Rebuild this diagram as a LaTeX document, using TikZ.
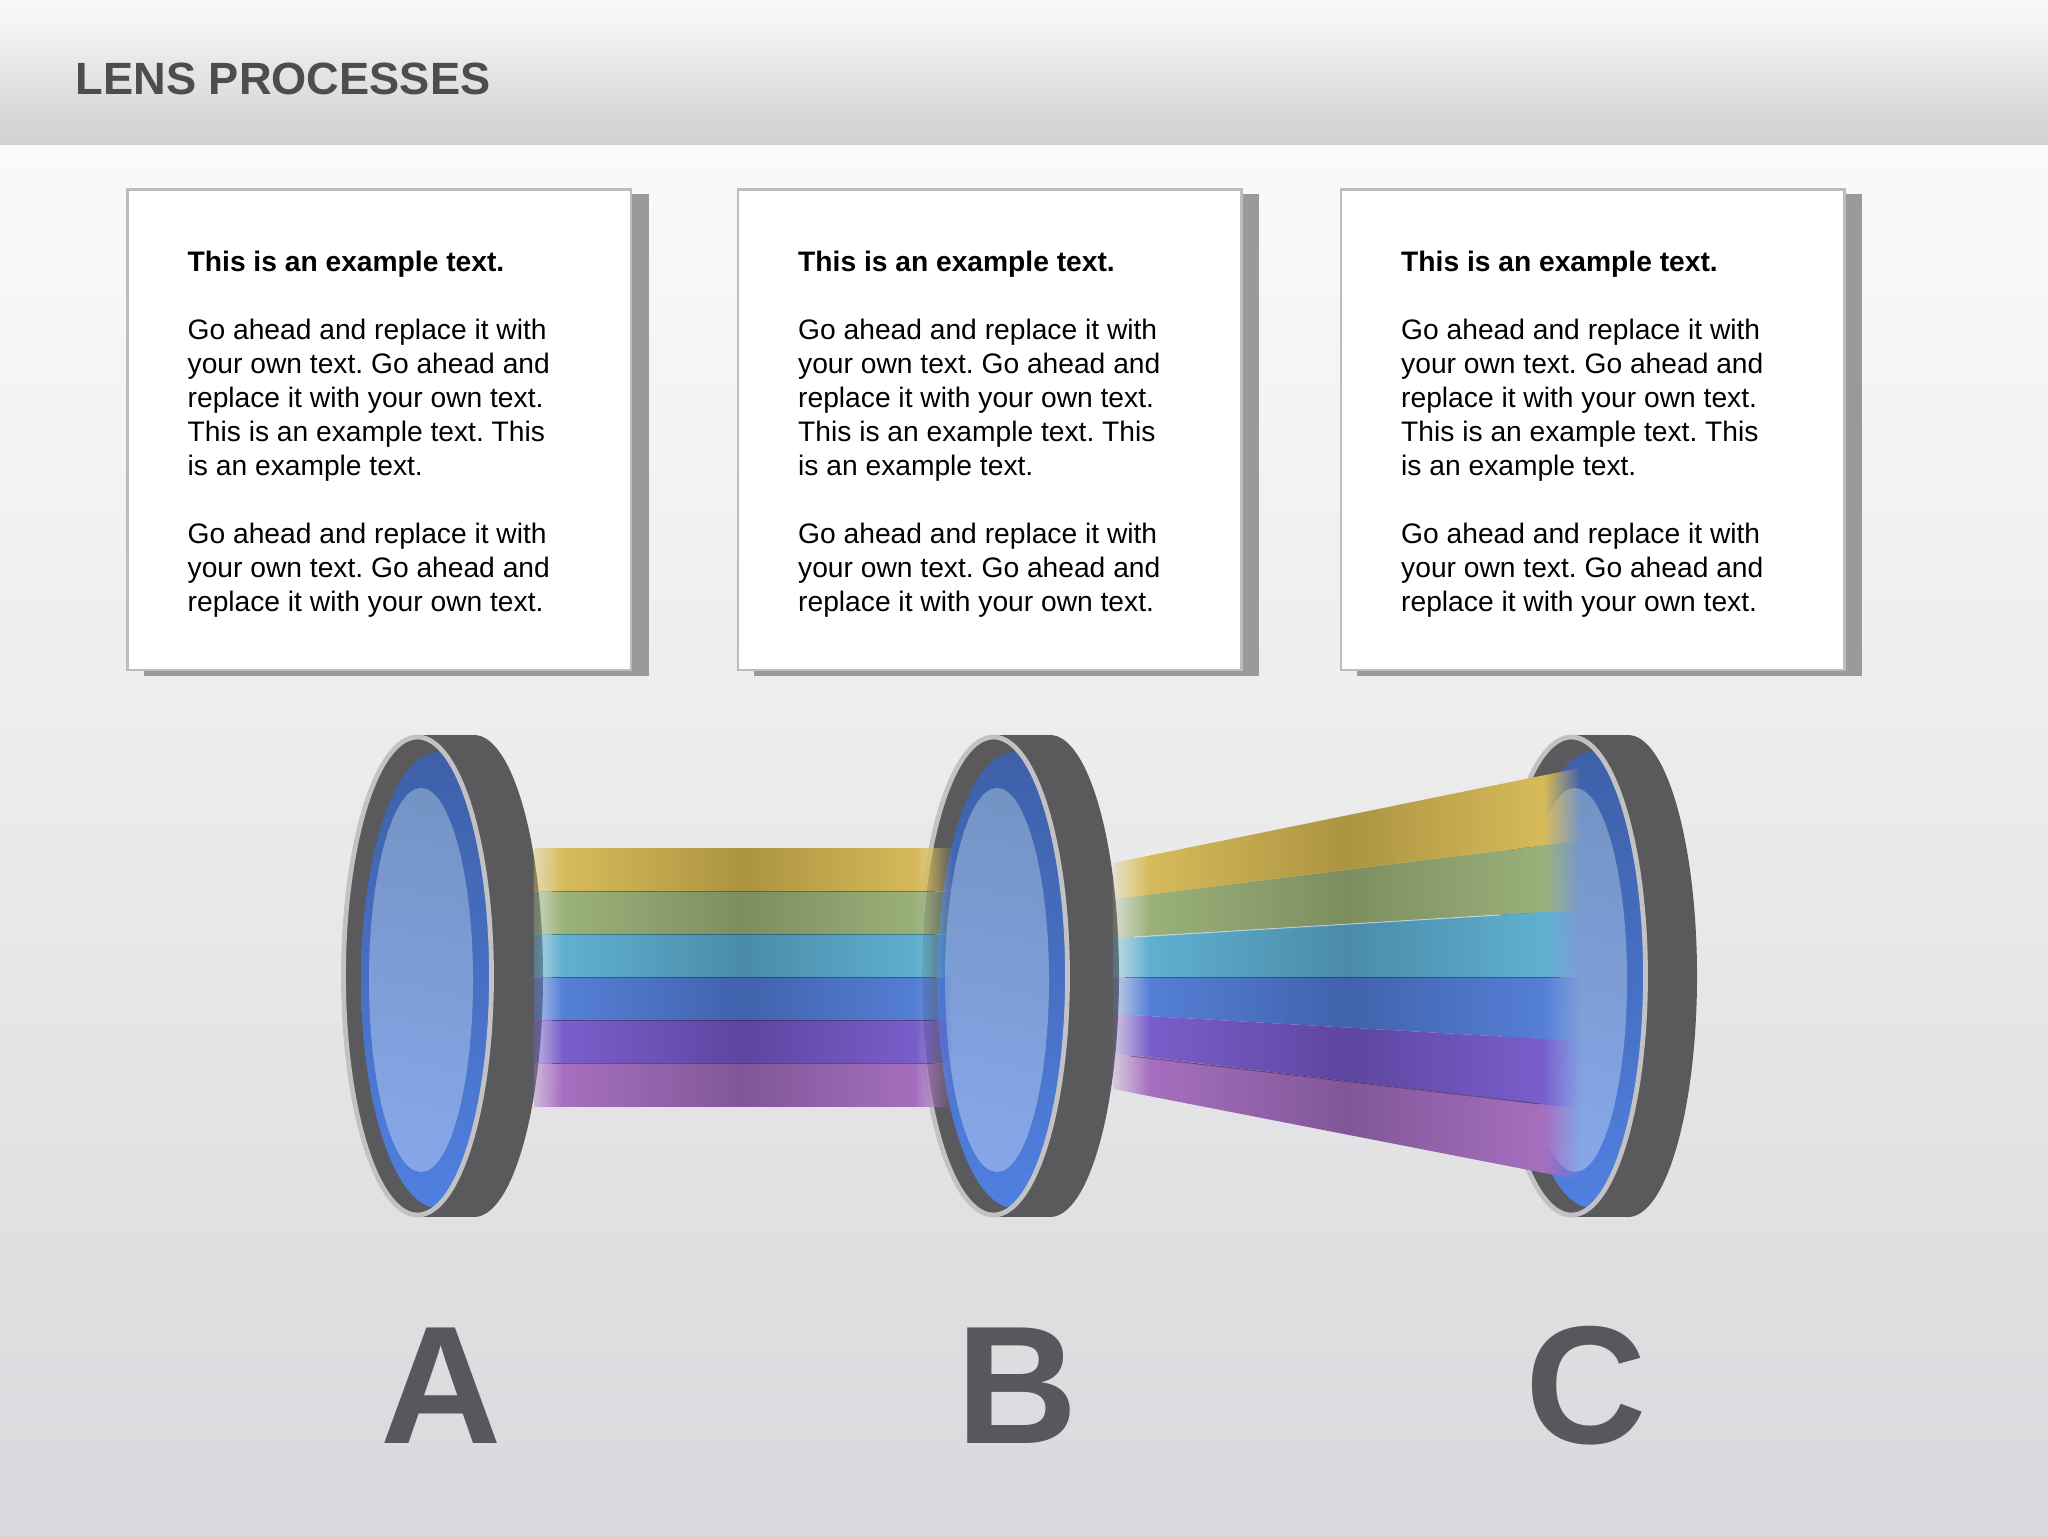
\documentclass[tikz,border=0pt]{standalone}
\usepackage{fontspec}
\setmainfont{Liberation Sans}
\usetikzlibrary{fadings}
\frenchspacing
\definecolor{bodyc}{HTML}{5A5A5C}
\definecolor{rimc}{HTML}{C2C2C4}
\definecolor{shadowc}{HTML}{9A9A9A}
\definecolor{boxline}{HTML}{BDBDBD}
\definecolor{titlec}{HTML}{4D4D4F}
\definecolor{letterc}{HTML}{58585C}
\definecolor{bluetop}{HTML}{3E60A8}
\definecolor{bluebot}{HTML}{5080E0}
\definecolor{innertop}{HTML}{7594C6}
\definecolor{innerbot}{HTML}{86A6E8}
\definecolor{bgtop}{HTML}{FAFAFA}
\definecolor{bgmid}{HTML}{EAEAEB}
\definecolor{bgbot}{HTML}{D9D8DC}
\definecolor{headbot}{HTML}{D0D0D1}
\definecolor{yL}{HTML}{DABE5C}\definecolor{yD}{HTML}{AC9340}
\definecolor{gL}{HTML}{9DB47C}\definecolor{gD}{HTML}{7C8E60}
\definecolor{cL}{HTML}{61B3D3}\definecolor{cD}{HTML}{4B8BAA}
\definecolor{bL}{HTML}{5682DA}\definecolor{bD}{HTML}{4162AC}
\definecolor{vL}{HTML}{7B61CE}\definecolor{vD}{HTML}{5E45A0}
\definecolor{mL}{HTML}{A971C2}\definecolor{mD}{HTML}{815698}
\pgfdeclarehorizontalshading{bandA}{100bp}{color(0bp)=(yL);color(27bp)=(yL);color(50bp)=(yD);color(73bp)=(yL);color(100bp)=(yL)}
\pgfdeclarehorizontalshading{bandB}{100bp}{color(0bp)=(gL);color(27bp)=(gL);color(50bp)=(gD);color(73bp)=(gL);color(100bp)=(gL)}
\pgfdeclarehorizontalshading{bandC}{100bp}{color(0bp)=(cL);color(27bp)=(cL);color(50bp)=(cD);color(73bp)=(cL);color(100bp)=(cL)}
\pgfdeclarehorizontalshading{bandD}{100bp}{color(0bp)=(bL);color(27bp)=(bL);color(50bp)=(bD);color(73bp)=(bL);color(100bp)=(bL)}
\pgfdeclarehorizontalshading{bandE}{100bp}{color(0bp)=(vL);color(27bp)=(vL);color(50bp)=(vD);color(73bp)=(vL);color(100bp)=(vL)}
\pgfdeclarehorizontalshading{bandF}{100bp}{color(0bp)=(mL);color(27bp)=(mL);color(50bp)=(mD);color(73bp)=(mL);color(100bp)=(mL)}
\pgfdeclarehorizontalshading{fadeABs}{100bp}{rgb(0bp)=(.35,.35,.35);rgb(25bp)=(.35,.35,.35);rgb(28.5bp)=(1,1,1);rgb(70.5bp)=(1,1,1);rgb(72bp)=(.75,.75,.75);rgb(75bp)=(0,0,0);rgb(100bp)=(0,0,0)}
\pgfdeclarehorizontalshading{fadeBCs}{100bp}{rgb(0bp)=(.2,.2,.2);rgb(25bp)=(.2,.2,.2);rgb(29bp)=(1,1,1);rgb(71bp)=(1,1,1);rgb(75bp)=(0,0,0);rgb(100bp)=(0,0,0)}
\pgfdeclarefading{fadeAB}{\pgfuseshading{fadeABs}}
\pgfdeclarefading{fadeBC}{\pgfuseshading{fadeBCs}}
\tikzset{
  x=0.5pt,y=-0.5pt,
  paneltext/.style={anchor=north west,inner sep=0pt,align=left,font=\fontsize{14.1pt}{17pt}\selectfont,text=black},
  bigletter/.style={anchor=base,inner sep=0pt,font=\fontsize{84pt}{85pt}\selectfont\bfseries,text=letterc},
  sepdark/.style={draw=black,draw opacity=.3,line width=.5pt},
  seplight/.style={draw=white,draw opacity=.5,line width=.5pt},
}
\newcommand{\panel}[2]{%
  \fill[shadowc] (#1+16,194) rectangle (#1+521,676);
  \draw[fill=white,draw=boxline,line width=1.2pt] (#1,189.5) rectangle (#1+503.5,670);
  \node[paneltext] (#2) at (#1+59.8,250.5) {\textbf{This is an example text.}\\[17pt]
    Go ahead and replace it with\\your own text. Go ahead and\\replace it with your own text.\\This is an example text. This\\is an example text.\\[17pt]
    Go ahead and replace it with\\your own text. Go ahead and\\replace it with your own text.};
}
\newcommand{\lensdraw}[1]{%
  \begin{scope}[shift={(#1,0)}]
    \fill[bodyc] (474,976) ellipse [x radius=69,y radius=241];
    \fill[bodyc] (417.5,735) rectangle (474,1217);
    \fill[bodyc] (417.5,976) ellipse [x radius=75,y radius=241];
    \begin{scope}
      \clip (417.5,976) ellipse [x radius=74,y radius=239];
      \shade[top color=bluetop,bottom color=bluebot] (438,980) ellipse [x radius=77,y radius=228];
    \end{scope}
    \shade[top color=innertop,bottom color=innerbot,shading angle=-12] (421,980) ellipse [x radius=52,y radius=192];
    \draw[rimc,line width=2.4pt] (417.5,976) ellipse [x radius=74,y radius=239];
  \end{scope}
}
\begin{document}
\begin{tikzpicture}
\useasboundingbox (0,0) rectangle (2048,1536);
\shade[top color=bgtop,bottom color=bgbot,middle color=bgmid] (0,144) rectangle (2048,1536);
\shade[top color=bgtop,bottom color=headbot] (0,0) rectangle (2048,144);
\node[anchor=base west,inner sep=0pt,font=\fontsize{22.6pt}{24pt}\selectfont\bfseries,text=titlec] (title) at (75.5,95) {LENS PROCESSES};
\panel{127.5}{panelA}
\panel{738}{panelB}
\panel{1341}{panelC}
\lensdraw{0}
\lensdraw{576}
\lensdraw{1154}
% beams A to B
\shade[shading=bandA,path fading=fadeAB] (534,848) rectangle (952,891);
\shade[shading=bandB,path fading=fadeAB] (534,891) rectangle (952,934);
\shade[shading=bandC,path fading=fadeAB] (534,934) rectangle (952,977);
\shade[shading=bandD,path fading=fadeAB] (534,977) rectangle (952,1020);
\shade[shading=bandE,path fading=fadeAB] (534,1020) rectangle (952,1063);
\shade[shading=bandF,path fading=fadeAB] (534,1063) rectangle (952,1106);
\foreach \yy in {891,934,977,1020,1063}{\draw[sepdark] (552,\yy) -- (935,\yy);}
% beams B to C
\shade[shading=bandA,path fading=fadeBC] (1113,863) -- (1580,768) -- (1580,841) -- (1113,899) -- cycle;
\shade[shading=bandB,path fading=fadeBC] (1113,899) -- (1580,841) -- (1580,910) -- (1113,938) -- cycle;
\shade[shading=bandC,path fading=fadeBC] (1113,938) -- (1580,910) -- (1580,977) -- (1113,977) -- cycle;
\shade[shading=bandD,path fading=fadeBC] (1113,977) -- (1580,977) -- (1580,1041) -- (1113,1014) -- cycle;
\shade[shading=bandE,path fading=fadeBC] (1113,1014) -- (1580,1041) -- (1580,1109) -- (1113,1053) -- cycle;
\shade[shading=bandF,path fading=fadeBC] (1113,1053) -- (1580,1109) -- (1580,1180) -- (1113,1089) -- cycle;
\draw[seplight] (1135,937) -- (1500,915);
\draw[sepdark] (1125,977) -- (1560,977);
\draw[sepdark] (1130,1056) -- (1540,1104);
\node[bigletter] (letterA) at (441.5,1443) {A};
\node[bigletter] (letterB) at (1017.5,1443) {B};
\node[bigletter] (letterC) at (1586,1443) {C};
\end{tikzpicture}
\end{document}
